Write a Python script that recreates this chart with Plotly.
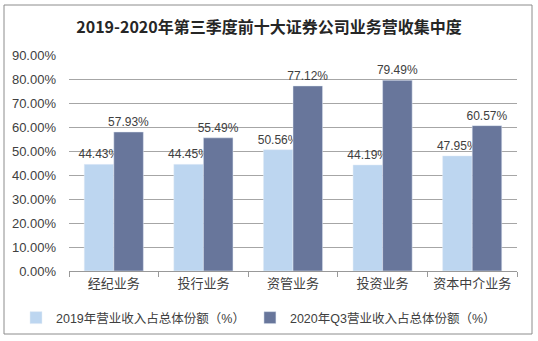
import plotly.graph_objects as go

categories = ["经纪业务", "投行业务", "资管业务", "投资业务", "资本中介业务"]
share_2019 = [44.43, 44.45, 50.56, 44.19, 47.95]
share_2020q3 = [57.93, 55.49, 77.12, 79.49, 60.57]
series_names = ["2019年营业收入占总体份额（%）", "2020年Q3营业收入占总体份额（%）"]
y_ticks = [0, 10, 20, 30, 40, 50, 60, 70, 80, 90]
title_text = "2019-2020年第三季度前十大证券公司业务营收集中度"

FONT = "Liberation Sans, Noto Sans CJK SC"
CJK = "Noto Sans CJK SC"
TXT = "#404040"

W, H = 538, 341
L, R, T, B = 69, 21, 55, 70

fig = go.Figure()
for name, vals, color in [(series_names[0], share_2019, "#BDD6F0"),
                          (series_names[1], share_2020q3, "#68769B")]:
    fig.add_trace(go.Bar(
        x=categories, y=vals, name=name, marker_color=color,
        text=[f"{v:.2f}%" for v in vals], textposition="outside",
        constraintext="none",
        textfont=dict(size=12, color=TXT, family=FONT),
        cliponaxis=False,
    ))

pw = W - L - R
ph = H - T - B
fig.update_layout(
    width=W, height=H,
    margin=dict(l=L, r=R, t=T, b=B, autoexpand=False),
    paper_bgcolor="white", plot_bgcolor="white",
    barmode="group", bargap=0.34, bargroupgap=0,
    font=dict(family=FONT, color=TXT),
    title=dict(text=f"<b>{title_text}</b>", x=0.5, xanchor="center",
               y=1 - 27 / H, yanchor="middle", yref="container",
               font=dict(size=16, color="#262626", family=CJK)),
    xaxis=dict(showline=True, linecolor="#999999", linewidth=1,
               ticks="outside", tickson="boundaries", ticklen=5,
               tickcolor="#999999", tickangle=0, automargin=False,
               tickfont=dict(size=13, color=TXT, family=CJK),
               showgrid=False),
    yaxis=dict(range=[0, 90], tickvals=y_ticks, automargin=False,
               ticktext=[f"{v:.2f}%" for v in y_ticks],
               showgrid=True, gridcolor="#A6A6A6", gridwidth=1,
               zeroline=False, showline=False,
               tickfont=dict(size=13, color=TXT, family=FONT),
               ticklen=0, ticklabelstandoff=12),
    legend=dict(orientation="h", xref="paper", yref="paper",
                x=(16 - L) / pw, xanchor="left",
                y=-(318 - (H - B)) / ph, yanchor="middle",
                font=dict(size=12.5, color=TXT, family=FONT),
                itemwidth=30, tracegroupgap=0),
    showlegend=True,
)

# outer border of the chart area
fig.add_shape(type="rect", xref="paper", yref="paper",
              x0=(4 - L) / pw, x1=(532 - L) / pw,
              y0=-(334 - (H - B)) / ph, y1=1 + (T - 5) / ph,
              line=dict(color="#8C8C8C", width=1), fillcolor="rgba(0,0,0,0)")

fig.write_html("out.html")
